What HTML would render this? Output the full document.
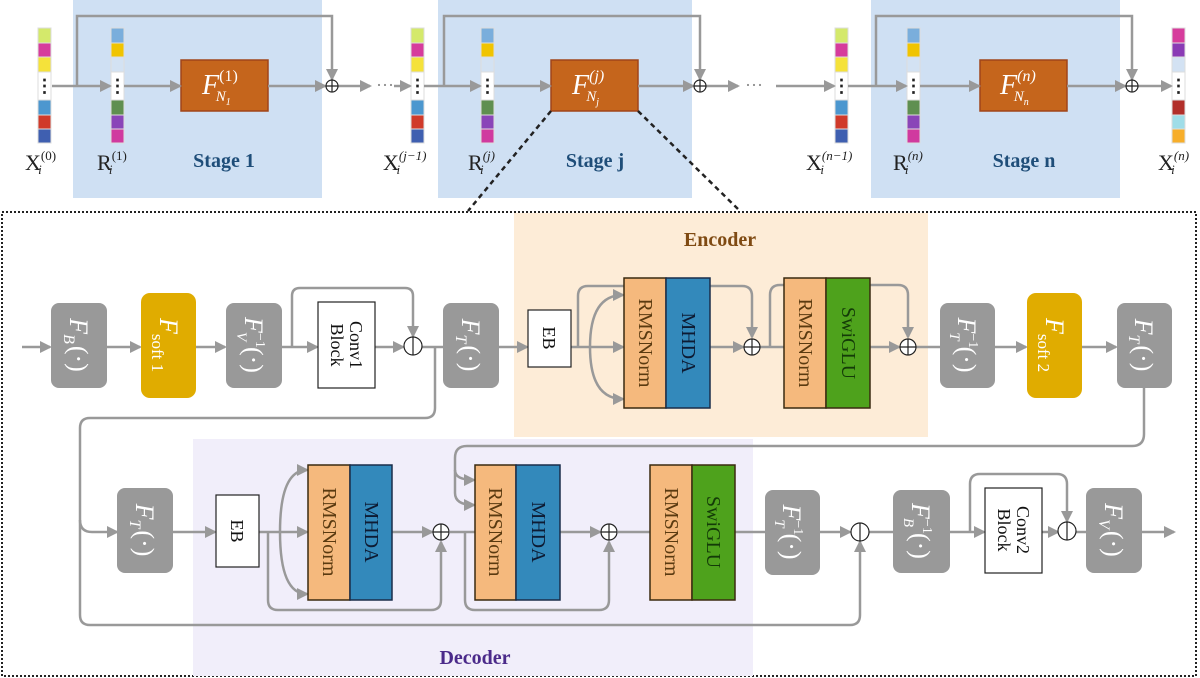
<!DOCTYPE html>
<html><head><meta charset="utf-8"><style>
html,body{margin:0;padding:0;background:#fff;}
svg{display:block;}
.ser{font-family:"Liberation Serif",serif;}
.it{font-style:italic;}
</style></head><body>
<svg width="1200" height="678" viewBox="0 0 1200 678" xmlns="http://www.w3.org/2000/svg" class="ser">
<defs>
<marker id="a" markerWidth="12" markerHeight="12" refX="10" refY="6" orient="auto" markerUnits="userSpaceOnUse">
<path d="M0,0 L12,6 L0,12 z" fill="#999"/></marker>
</defs>
<rect x="73" y="0" width="249" height="198" fill="#cfe0f3"/>
<rect x="438" y="0" width="254" height="198" fill="#cfe0f3"/>
<rect x="871" y="0" width="249" height="198" fill="#cfe0f3"/>
<g stroke="#ddd" stroke-width="1">
<rect x="38" y="28" width="13" height="15" fill="#d4e96b"/><rect x="38" y="43" width="13" height="14" fill="#d63c9c"/><rect x="38" y="57" width="13" height="15" fill="#f5e23a"/><rect x="38" y="72" width="13" height="28" fill="#fff"/><rect x="38" y="100" width="13" height="15" fill="#4c97cf"/><rect x="38" y="115" width="13" height="14" fill="#d03a2a"/><rect x="38" y="129" width="13" height="14" fill="#3f5fb0"/>
<rect x="111" y="28" width="13" height="15" fill="#7aaedc"/><rect x="111" y="43" width="13" height="14" fill="#f0c400"/><rect x="111" y="57" width="13" height="15" fill="#d3e2f3"/><rect x="111" y="72" width="13" height="28" fill="#fff"/><rect x="111" y="100" width="13" height="15" fill="#5f8f50"/><rect x="111" y="115" width="13" height="14" fill="#8a45b8"/><rect x="111" y="129" width="13" height="14" fill="#d03a9f"/>
<rect x="411" y="28" width="13" height="15" fill="#d4e96b"/><rect x="411" y="43" width="13" height="14" fill="#d63c9c"/><rect x="411" y="57" width="13" height="15" fill="#f5e23a"/><rect x="411" y="72" width="13" height="28" fill="#fff"/><rect x="411" y="100" width="13" height="15" fill="#4c97cf"/><rect x="411" y="115" width="13" height="14" fill="#d03a2a"/><rect x="411" y="129" width="13" height="14" fill="#3f5fb0"/>
<rect x="481" y="28" width="13" height="15" fill="#7aaedc"/><rect x="481" y="43" width="13" height="14" fill="#f0c400"/><rect x="481" y="57" width="13" height="15" fill="#d3e2f3"/><rect x="481" y="72" width="13" height="28" fill="#fff"/><rect x="481" y="100" width="13" height="15" fill="#5f8f50"/><rect x="481" y="115" width="13" height="14" fill="#8a45b8"/><rect x="481" y="129" width="13" height="14" fill="#d03a9f"/>
<rect x="835" y="28" width="13" height="15" fill="#d4e96b"/><rect x="835" y="43" width="13" height="14" fill="#d63c9c"/><rect x="835" y="57" width="13" height="15" fill="#f5e23a"/><rect x="835" y="72" width="13" height="28" fill="#fff"/><rect x="835" y="100" width="13" height="15" fill="#4c97cf"/><rect x="835" y="115" width="13" height="14" fill="#d03a2a"/><rect x="835" y="129" width="13" height="14" fill="#3f5fb0"/>
<rect x="907" y="28" width="13" height="15" fill="#7aaedc"/><rect x="907" y="43" width="13" height="14" fill="#f0c400"/><rect x="907" y="57" width="13" height="15" fill="#d3e2f3"/><rect x="907" y="72" width="13" height="28" fill="#fff"/><rect x="907" y="100" width="13" height="15" fill="#5f8f50"/><rect x="907" y="115" width="13" height="14" fill="#8a45b8"/><rect x="907" y="129" width="13" height="14" fill="#d03a9f"/>
<rect x="1172" y="28" width="13" height="15" fill="#d63c9c"/><rect x="1172" y="43" width="13" height="14" fill="#8a3bb5"/><rect x="1172" y="57" width="13" height="15" fill="#d3e2f3"/><rect x="1172" y="72" width="13" height="28" fill="#fff"/><rect x="1172" y="100" width="13" height="15" fill="#b22f2a"/><rect x="1172" y="115" width="13" height="14" fill="#9fdde8"/><rect x="1172" y="129" width="13" height="14" fill="#f7ae2a"/>
</g>
<g font-size="18" font-weight="bold" text-anchor="middle" fill="#222">
<text x="44.5" y="92">⋮</text><text x="117.5" y="92">⋮</text><text x="417.5" y="92">⋮</text><text x="487.5" y="92">⋮</text><text x="841.5" y="92">⋮</text><text x="913.5" y="92">⋮</text><text x="1178.5" y="92">⋮</text>
</g>
<g fill="#c5651c" stroke="#a0451a" stroke-width="1.5">
<rect x="181" y="60" width="87" height="51"/><rect x="551" y="60" width="87" height="51"/><rect x="980" y="60" width="87" height="51"/>
</g>
<g fill="#fff" class="it" font-size="28">
<text x="202" y="94">F<tspan font-size="16" dy="-13" font-style="normal">(1)</tspan><tspan font-size="15" dx="-22" dy="20">N</tspan><tspan font-size="10" dy="4">1</tspan></text>
<text x="572" y="94">F<tspan font-size="16" dy="-13">(j)</tspan><tspan font-size="15" dx="-18" dy="20">N</tspan><tspan font-size="10" dy="4">j</tspan></text>
<text x="1000" y="94">F<tspan font-size="16" dy="-13">(n)</tspan><tspan font-size="15" dx="-22" dy="20">N</tspan><tspan font-size="10" dy="4">n</tspan></text>
</g>
<g stroke="#999" stroke-width="2.5" fill="none">
<line x1="52" y1="86" x2="110" y2="86" marker-end="url(#a)"/>
<line x1="124" y1="86" x2="180" y2="86" marker-end="url(#a)"/>
<line x1="268" y1="86" x2="325" y2="86" marker-end="url(#a)"/>
<line x1="338" y1="86" x2="370" y2="86" marker-end="url(#a)"/>
<line x1="394" y1="86" x2="410" y2="86" marker-end="url(#a)"/>
<polyline points="77,86 77,16 332,16 332,79" marker-end="url(#a)"/>
<line x1="424" y1="86" x2="480" y2="86" marker-end="url(#a)"/>
<line x1="494" y1="86" x2="550" y2="86" marker-end="url(#a)"/>
<line x1="638" y1="86" x2="693" y2="86" marker-end="url(#a)"/>
<line x1="706" y1="86" x2="738" y2="86" marker-end="url(#a)"/>
<line x1="776" y1="86" x2="834" y2="86" marker-end="url(#a)"/>
<polyline points="444,86 444,16 700,16 700,79" marker-end="url(#a)"/>
<line x1="848" y1="86" x2="906" y2="86" marker-end="url(#a)"/>
<line x1="920" y1="86" x2="979" y2="86" marker-end="url(#a)"/>
<line x1="1067" y1="86" x2="1125" y2="86" marker-end="url(#a)"/>
<line x1="1138" y1="86" x2="1171" y2="86" marker-end="url(#a)"/>
<polyline points="876,86 876,16 1132,16 1132,79" marker-end="url(#a)"/>
</g>
<g fill="none" stroke="#222" stroke-width="1.2">
<circle cx="332" cy="86" r="6"/><path d="M326,86h12M332,80v12"/>
<circle cx="700" cy="86" r="6"/><path d="M694,86h12M700,80v12"/>
<circle cx="1132" cy="86" r="6"/><path d="M1126,86h12M1132,80v12"/>
</g>
<g fill="#888" font-size="18"><text x="376" y="91">···</text><text x="745" y="91">···</text></g>
<g font-size="22" fill="#222">
<text x="25" y="170">X<tspan font-size="13" dy="-10">(0)</tspan><tspan font-size="13" class="it" dx="-18" dy="14">i</tspan></text>
<text x="97" y="170">R<tspan font-size="13" dy="-10">(1)</tspan><tspan font-size="13" class="it" dx="-18" dy="14">i</tspan></text>
<text x="383" y="170">X<tspan font-size="13" class="it" dy="-10">(j−1)</tspan><tspan font-size="13" class="it" dx="-30" dy="14">i</tspan></text>
<text x="468" y="170">R<tspan font-size="13" class="it" dy="-10">(j)</tspan><tspan font-size="13" class="it" dx="-15" dy="14">i</tspan></text>
<text x="806" y="170">X<tspan font-size="13" class="it" dy="-10">(n−1)</tspan><tspan font-size="13" class="it" dx="-32" dy="14">i</tspan></text>
<text x="893" y="170">R<tspan font-size="13" class="it" dy="-10">(n)</tspan><tspan font-size="13" class="it" dx="-18" dy="14">i</tspan></text>
<text x="1158" y="170">X<tspan font-size="13" class="it" dy="-10">(n)</tspan><tspan font-size="13" class="it" dx="-18" dy="14">i</tspan></text>
</g>
<g font-size="20" font-weight="bold" fill="#1f4e79" text-anchor="middle">
<text x="224" y="167">Stage 1</text><text x="595" y="167">Stage j</text><text x="1024" y="167">Stage n</text>
</g>
<rect x="2" y="212" width="1194" height="464" fill="none" stroke="#222" stroke-width="2" stroke-dasharray="2,2"/>
<g stroke="#222" stroke-width="2.5" stroke-dasharray="5,4"><line x1="551" y1="111" x2="468" y2="211"/><line x1="638" y1="111" x2="740" y2="211"/></g>
<rect x="514" y="213" width="414" height="224" fill="#fdecd7"/>
<rect x="193" y="439" width="560" height="237" fill="#f1eefa"/>
<text x="720" y="246" text-anchor="middle" font-size="20" font-weight="bold" fill="#7f4a12">Encoder</text>
<text x="475" y="664" text-anchor="middle" font-size="20" font-weight="bold" fill="#4b2a8a">Decoder</text>
<g stroke="#999" stroke-width="2.5" fill="none">
<line x1="22" y1="347" x2="50" y2="347" marker-end="url(#a)"/>
<line x1="107" y1="347" x2="140" y2="347" marker-end="url(#a)"/>
<line x1="196" y1="347" x2="225" y2="347" marker-end="url(#a)"/>
<line x1="282" y1="347" x2="317" y2="347" marker-end="url(#a)"/>
<line x1="375" y1="347" x2="403" y2="347" marker-end="url(#a)"/>
<path d="M292,347 V296 q0,-8 8,-8 H405 q8,0 8,8 V336" marker-end="url(#a)"/>
<line x1="422" y1="347" x2="443" y2="347"/>
<line x1="499" y1="347" x2="527" y2="347" marker-end="url(#a)"/>
<path d="M435,347 V408 q0,10 -10,10 H90 q-10,0 -10,10 V615 q0,10 10,10 H850 q10,0 10,-10 V542" marker-end="url(#a)"/>
<path d="M80,520 q0,12 12,12 H117" marker-end="url(#a)"/>
<line x1="571" y1="347" x2="623" y2="347" marker-end="url(#a)"/>
<path d="M590,347 q0,-52 33,-52" marker-end="url(#a)"/><path d="M590,347 q0,52 33,52" marker-end="url(#a)"/>
<path d="M578,347 V296 q0,-10 10,-10 H742 q10,0 10,10 V337" marker-end="url(#a)"/>
<line x1="710" y1="347" x2="743" y2="347" marker-end="url(#a)"/>
<line x1="760" y1="347" x2="784" y2="347"/>
<path d="M770,347 V295 q0,-10 10,-10 H898 q10,0 10,10 V337" marker-end="url(#a)"/>
<line x1="870" y1="347" x2="899" y2="347" marker-end="url(#a)"/>
<line x1="916" y1="347" x2="940" y2="347"/>
<line x1="995" y1="347" x2="1026" y2="347" marker-end="url(#a)"/>
<line x1="1082" y1="347" x2="1116" y2="347" marker-end="url(#a)"/>
<path d="M1144,388 V434 q0,12 -12,12 H467 q-12,0 -12,12 V470 q0,10 19,10" marker-end="url(#a)"/>
<path d="M455,470 V493 q0,12 19,12" marker-end="url(#a)"/>
<line x1="173" y1="532" x2="215" y2="532" marker-end="url(#a)"/>
<line x1="259" y1="532" x2="307" y2="532" marker-end="url(#a)"/>
<path d="M280,532 q0,-62 27,-62" marker-end="url(#a)"/><path d="M280,532 q0,62 27,62" marker-end="url(#a)"/>
<path d="M268,532 V600 q0,10 10,10 H431 q10,0 10,-10 V542" marker-end="url(#a)"/>
<line x1="392" y1="532" x2="432" y2="532" marker-end="url(#a)"/>
<line x1="450" y1="532" x2="475" y2="532"/>
<path d="M465,532 V600 q0,10 10,10 H599 q10,0 10,-10 V542" marker-end="url(#a)"/>
<line x1="560" y1="532" x2="600" y2="532" marker-end="url(#a)"/>
<line x1="618" y1="532" x2="650" y2="532"/>
<line x1="735" y1="532" x2="765" y2="532"/>
<line x1="820" y1="532" x2="850" y2="532" marker-end="url(#a)"/>
<line x1="869" y1="532" x2="893" y2="532"/>
<line x1="950" y1="532" x2="984" y2="532" marker-end="url(#a)"/>
<path d="M970,532 V484 q0,-10 10,-10 H1057 q10,0 10,10 V521" marker-end="url(#a)"/>
<line x1="1042" y1="532" x2="1058" y2="532" marker-end="url(#a)"/>
<line x1="1076" y1="532" x2="1086" y2="532"/>
<line x1="1142" y1="532" x2="1174" y2="532" marker-end="url(#a)"/>
</g>
<g fill="#999">
<rect x="51" y="303" width="56" height="85" rx="8"/><rect x="226" y="303" width="56" height="85" rx="8"/><rect x="443" y="303" width="56" height="85" rx="8"/>
<rect x="940" y="303" width="55" height="85" rx="8"/><rect x="1117" y="303" width="55" height="85" rx="8"/>
<rect x="117" y="488" width="56" height="85" rx="8"/><rect x="765" y="490" width="55" height="85" rx="8"/><rect x="893" y="490" width="57" height="83" rx="8"/><rect x="1086" y="488" width="56" height="85" rx="8"/>
</g>
<g fill="#e0ac00"><rect x="141" y="293" width="55" height="105" rx="9"/><rect x="1027" y="293" width="55" height="105" rx="9"/></g>
<g fill="#fff" font-size="26">
<text transform="translate(79,345) rotate(90)" text-anchor="middle" dy="9"><tspan class="it">F</tspan><tspan class="it" font-size="16" dy="6">B</tspan><tspan dy="-6" dx="2">(·)</tspan></text>
<text transform="translate(168,345) rotate(90)" text-anchor="middle" dy="8"><tspan class="it">F</tspan><tspan font-size="17" dy="8">soft 1</tspan></text>
<text transform="translate(254,345) rotate(90)" text-anchor="middle" dy="9"><tspan class="it">F</tspan><tspan font-size="14" dy="-11">−1</tspan><tspan class="it" font-size="15" dx="-16" dy="19">V</tspan><tspan dy="-8" dx="6">(·)</tspan></text>
<text transform="translate(471,345) rotate(90)" text-anchor="middle" dy="9"><tspan class="it">F</tspan><tspan class="it" font-size="16" dy="6">T</tspan><tspan dy="-6" dx="2">(·)</tspan></text>
<text transform="translate(967,345) rotate(90)" text-anchor="middle" dy="9"><tspan class="it">F</tspan><tspan font-size="14" dy="-11">−1</tspan><tspan class="it" font-size="15" dx="-16" dy="19">T</tspan><tspan dy="-8" dx="6">(·)</tspan></text>
<text transform="translate(1054,345) rotate(90)" text-anchor="middle" dy="8"><tspan class="it">F</tspan><tspan font-size="17" dy="8">soft 2</tspan></text>
<text transform="translate(1144,345) rotate(90)" text-anchor="middle" dy="9"><tspan class="it">F</tspan><tspan class="it" font-size="16" dy="6">T</tspan><tspan dy="-6" dx="2">(·)</tspan></text>
<text transform="translate(145,530) rotate(90)" text-anchor="middle" dy="9"><tspan class="it">F</tspan><tspan class="it" font-size="16" dy="6">T</tspan><tspan dy="-6" dx="2">(·)</tspan></text>
<text transform="translate(792,532) rotate(90)" text-anchor="middle" dy="9"><tspan class="it">F</tspan><tspan font-size="14" dy="-11">−1</tspan><tspan class="it" font-size="15" dx="-16" dy="19">T</tspan><tspan dy="-8" dx="6">(·)</tspan></text>
<text transform="translate(921,531) rotate(90)" text-anchor="middle" dy="9"><tspan class="it">F</tspan><tspan font-size="14" dy="-11">−1</tspan><tspan class="it" font-size="15" dx="-16" dy="19">B</tspan><tspan dy="-8" dx="6">(·)</tspan></text>
<text transform="translate(1114,530) rotate(90)" text-anchor="middle" dy="9"><tspan class="it">F</tspan><tspan class="it" font-size="16" dy="6">V</tspan><tspan dy="-6" dx="2">(·)</tspan></text>
</g>
<g fill="#fff" stroke="#222" stroke-width="1.2">
<rect x="318" y="302" width="57" height="86"/><rect x="528" y="310" width="43" height="57"/><rect x="216" y="495" width="43" height="72"/><rect x="985" y="488" width="57" height="85"/>
</g>
<g font-size="18" fill="#111" text-anchor="middle">
<text transform="translate(346,345) rotate(90)"><tspan x="0" dy="-4">Conv1</tspan><tspan x="0" dy="19">Block</tspan></text>
<text transform="translate(1013,530) rotate(90)"><tspan x="0" dy="-4">Conv2</tspan><tspan x="0" dy="19">Block</tspan></text>
<text transform="translate(549,338) rotate(90)" dy="6">EB</text>
<text transform="translate(237,531) rotate(90)" dy="6">EB</text>
</g>
<g stroke="#3a2a10" stroke-width="1.5">
<rect x="624" y="278" width="42" height="130" fill="#f5b97d"/><rect x="666" y="278" width="44" height="130" fill="#3389bb" stroke="#1a2d4a"/>
<rect x="784" y="278" width="42" height="130" fill="#f5b97d"/><rect x="826" y="278" width="44" height="130" fill="#4ea21c"/>
<rect x="308" y="465" width="42" height="135" fill="#f5b97d"/><rect x="350" y="465" width="42" height="135" fill="#3389bb" stroke="#1a2d4a"/>
<rect x="475" y="465" width="41" height="135" fill="#f5b97d"/><rect x="516" y="465" width="44" height="135" fill="#3389bb" stroke="#1a2d4a"/>
<rect x="650" y="465" width="42" height="135" fill="#f5b97d"/><rect x="692" y="465" width="43" height="135" fill="#4ea21c"/>
</g>
<g font-size="20" text-anchor="middle">
<text transform="translate(645,343) rotate(90)" dy="6" fill="#5a3a10">RMSNorm</text>
<text transform="translate(688,343) rotate(90)" dy="6" fill="#0d1b33">MHDA</text>
<text transform="translate(805,343) rotate(90)" dy="6" fill="#5a3a10">RMSNorm</text>
<text transform="translate(848,343) rotate(90)" dy="6" fill="#143b08">SwiGLU</text>
<text transform="translate(329,532) rotate(90)" dy="6" fill="#5a3a10">RMSNorm</text>
<text transform="translate(371,532) rotate(90)" dy="6" fill="#0d1b33">MHDA</text>
<text transform="translate(495,532) rotate(90)" dy="6" fill="#5a3a10">RMSNorm</text>
<text transform="translate(538,532) rotate(90)" dy="6" fill="#0d1b33">MHDA</text>
<text transform="translate(671,532) rotate(90)" dy="6" fill="#5a3a10">RMSNorm</text>
<text transform="translate(713,532) rotate(90)" dy="6" fill="#143b08">SwiGLU</text>
</g>
<g fill="#fff" stroke="#222" stroke-width="1.2">
<circle cx="413" cy="346" r="9"/><path d="M413,337v18" fill="none"/>
<circle cx="752" cy="347" r="8"/><path d="M744,347h16M752,339v16" fill="none"/>
<circle cx="908" cy="347" r="8"/><path d="M900,347h16M908,339v16" fill="none"/>
<circle cx="441" cy="532" r="8"/><path d="M433,532h16M441,524v16" fill="none"/>
<circle cx="609" cy="532" r="8"/><path d="M601,532h16M609,524v16" fill="none"/>
<circle cx="860" cy="532" r="9"/><path d="M860,523v18" fill="none"/>
<circle cx="1067" cy="531" r="9"/><path d="M1067,522v18" fill="none"/>
</g>
</svg>
</body></html>
